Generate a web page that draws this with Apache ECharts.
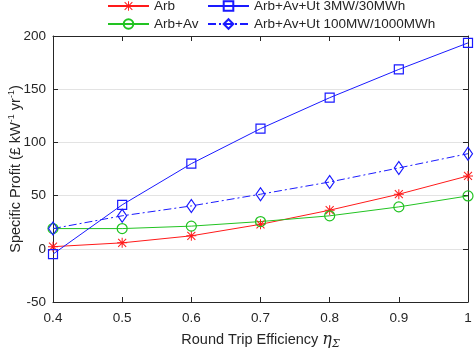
<!DOCTYPE html>
<html>
<head>
<meta charset="utf-8">
<script src="https://cdn.jsdelivr.net/npm/echarts@6/dist/echarts.min.js"></script>
<style>
  html, body { margin: 0; padding: 0; background: #fff; }
  #chart { width: 474px; height: 350px; }
</style>
</head>
<body>
<div id="chart"></div>
<script>
// round trip efficiency (x)
const efficiency = [0.4, 0.5, 0.6, 0.7, 0.8, 0.9, 1.0];
// specific profit values (£ kW^-1 yr^-1)
const arb = [2, 5.6, 12.2, 23, 36.3, 51.3, 68.5];
const arbAv = [19, 19, 21.3, 25.6, 31, 39.4, 49.7];
const utSmall = [-5, 41.3, 80, 112.9, 142, 168.6, 193.5];
const utLarge = [19, 31, 40.3, 51.3, 62.8, 76, 89.4];
const seriesNames = ['Arb', 'Arb+Av', 'Arb+Av+Ut 3MW/30MWh', 'Arb+Av+Ut 100MW/1000MWh'];

const axisColor = '#262626';
const font = 'Liberation Sans, Arial, sans-serif';

// asterisk marker like matlab '*'
const starPath = 'path://M0 4.5H10V5.5H0Z M4.5 0H5.5V10H4.5Z ' +
  'M1.35 0.65L9.35 8.65L8.65 9.35L0.65 1.35Z M8.65 0.65L9.35 1.35L1.35 9.35L0.65 8.65Z';

function toPairs(values) {
  return efficiency.map((x, i) => [x, values[i]]);
}

function makeSeries(name, values, color, symbol, size, lineType) {
  return {
    name: name,
    type: 'line',
    data: toPairs(values),
    symbol: symbol,
    symbolSize: size,
    showSymbol: true,
    lineStyle: { color: color, width: 1, type: lineType || 'solid' },
    itemStyle: symbol === starPath
      ? { color: color, borderWidth: 0 }
      : { color: 'rgba(0,0,0,0)', borderColor: color, borderWidth: 1.2 },
    emphasis: { disabled: true }
  };
}

const chart = echarts.init(document.getElementById('chart'));

const legendBase = {
  orient: 'vertical',
  top: -1,
  padding: 0,
  itemWidth: 41,
  itemHeight: 12,
  itemGap: 4,
  textStyle: { fontSize: 13.5, color: axisColor, fontFamily: font }
};

const option = {
  animation: false,
  legend: [
    Object.assign({}, legendBase, { left: 107, data: [seriesNames[0], seriesNames[1]] }),
    Object.assign({}, legendBase, { left: 207, data: [seriesNames[2], seriesNames[3]] })
  ],
  grid: { left: 53, right: 6, top: 36, bottom: 48, outerBoundsMode: 'none' },
  xAxis: [
    {
      type: 'value',
      min: 0.4,
      max: 1,
      interval: 0.1,
      name: '{t|Round Trip Efficiency }{e|η}{s|Σ}',
      nameLocation: 'middle',
      nameGap: 27,
      nameMoveOverlap: false,
      nameTextStyle: {
        rich: {
          t: { fontSize: 14.5, color: axisColor, fontFamily: font },
          e: { fontSize: 16, color: axisColor, fontFamily: 'DejaVu Serif, serif', fontStyle: 'italic' },
          s: { fontSize: 11, color: axisColor, fontFamily: 'DejaVu Serif, serif', fontStyle: 'italic', padding: [10, 0, 0, 0] }
        }
      },
      axisLine: { onZero: false, lineStyle: { color: axisColor, width: 1 } },
      axisTick: { inside: true, length: 5, lineStyle: { color: axisColor } },
      axisLabel: {
        margin: 9,
        fontSize: 13.5,
        color: axisColor,
        fontFamily: font,
        formatter: v => (v === 1 ? '1' : v.toFixed(1))
      },
      splitLine: { show: false }
    },
    {
      type: 'value',
      position: 'top',
      min: 0.4,
      max: 1,
      interval: 0.1,
      axisLine: { onZero: false, lineStyle: { color: axisColor, width: 1 } },
      axisTick: { inside: true, length: 5, lineStyle: { color: axisColor } },
      axisLabel: { show: false },
      splitLine: { show: false }
    }
  ],
  yAxis: [
    {
      type: 'value',
      min: -50,
      max: 200,
      interval: 50,
      name: '{n|Specific Profit (£ kW}{p|-1}{n| yr}{p|-1}{n|)}',
      nameLocation: 'middle',
      nameGap: 28,
      nameMoveOverlap: false,
      nameRotate: 90,
      nameTextStyle: {
        rich: {
          n: { fontSize: 14.5, color: axisColor, fontFamily: font, lineHeight: 18 },
          p: { fontSize: 9, color: axisColor, fontFamily: font, verticalAlign: 'top', lineHeight: 18, padding: [0, 0, 8, 0] }
        }
      },
      axisLine: { show: true, onZero: false, lineStyle: { color: axisColor, width: 1 } },
      axisTick: { show: true, inside: true, length: 5, lineStyle: { color: axisColor } },
      axisLabel: { margin: 7, fontSize: 13.5, color: axisColor, fontFamily: font },
      splitLine: { show: true, lineStyle: { color: '#e3e3e3', width: 1 } }
    },
    {
      type: 'value',
      position: 'right',
      min: -50,
      max: 200,
      interval: 50,
      axisLine: { show: true, onZero: false, lineStyle: { color: axisColor, width: 1 } },
      axisTick: { show: true, inside: true, length: 5, lineStyle: { color: axisColor } },
      axisLabel: { show: false },
      splitLine: { show: false }
    }
  ],
  series: [
    makeSeries(seriesNames[0], arb, '#ff1a1a', starPath, 10),
    makeSeries(seriesNames[1], arbAv, '#22c322', 'circle', 10),
    makeSeries(seriesNames[2], utSmall, '#1a1aff', 'rect', 9),
    makeSeries(seriesNames[3], utLarge, '#1a1aff', 'diamond', [9, 13], [8, 3, 2, 3])
  ]
};

chart.setOption(option);
</script>
</body>
</html>
